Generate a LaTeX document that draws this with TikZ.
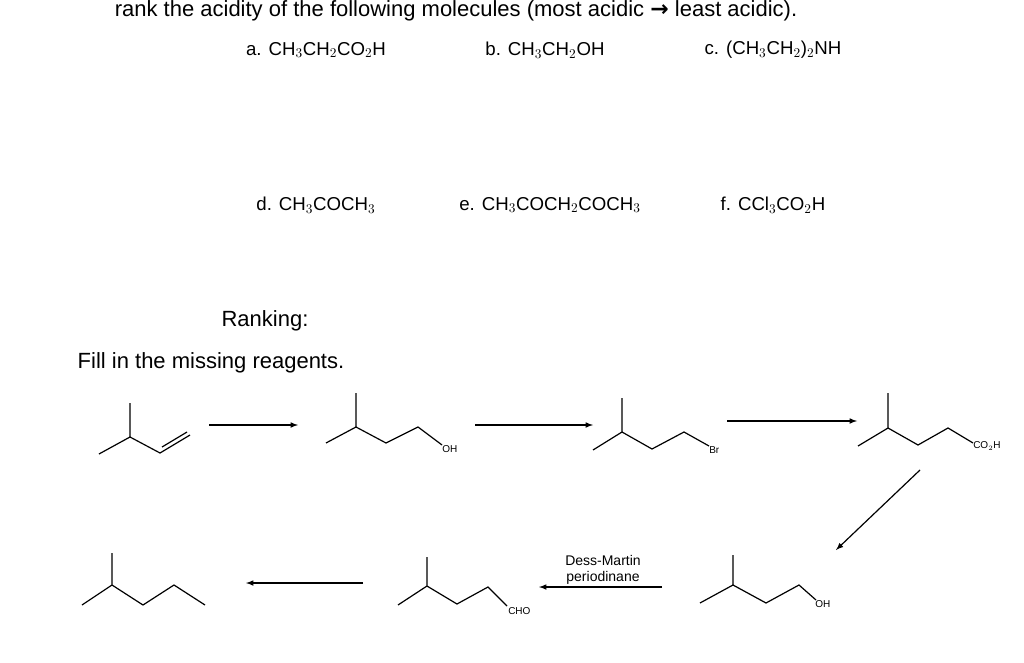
\documentclass[tikz,border=0pt]{standalone}
\usepackage{fontspec}
\setmainfont{Liberation Sans}
\newfontfamily\dvs{DejaVu Sans}
\begin{document}
\begin{tikzpicture}[x=0.75pt,y=-0.75pt,
  bond/.style={line width=0.9pt},
  rxn/.style={line width=0.9pt,-latex},
  big/.style={font=\fontsize{16.5}{18}\selectfont,inner sep=0},
  lab/.style={font=\fontsize{14}{16}\selectfont,inner sep=0},
  sm/.style={font=\fontsize{7.5}{8}\selectfont,inner sep=0,anchor=west}]
\useasboundingbox (0,0) rectangle (1024,663);
\node[big] (title) at (456,11) {rank the acidity of the following molecules (most acidic {\dvs\bfseries →} least acidic).};
\node[lab] (a) at (316,50) {a. CH$_3$CH$_2$CO$_2$H};
\node[lab] (b) at (545,50) {b. CH$_3$CH$_2$OH};
\node[lab] (c) at (773,50) {c. (CH$_3$CH$_2$)$_2$NH};
\node[lab] (d) at (316,205) {d. CH$_3$COCH$_3$};
\node[lab] (e) at (550,205) {e. CH$_3$COCH$_2$COCH$_3$};
\node[lab] (f) at (773,205) {f. CCl$_3$CO$_2$H};
\node[big] (rk) at (265,321) {Ranking:};
\node[big] (fill) at (211,363) {Fill in the missing reagents.};
% 1 alkene
\draw[bond] (99,454)--(130,437)--(130,403) (130,437)--(160,453)--(190,435);
\draw[bond] (162,447)--(187,432);
% 2 alcohol
\draw[bond] (326,443)--(356,427)--(356,393) (356,427)--(386,443)--(418,427)--(442,445);
\node[sm] (oh1) at (442,449) {OH};
% 3 bromide
\draw[bond] (593,450)--(622,432)--(622,398) (622,432)--(652,449)--(684,432)--(709,446);
\node[sm] (br) at (709,450) {Br};
% 4 acid
\draw[bond] (858,446)--(888,428)--(888,393) (888,428)--(918,445)--(948,428)--(973,443);
\node[sm] (co) at (973,446) {CO$_2$H};
% bottom right alcohol
\draw[bond] (700,603)--(733,585)--(733,555) (733,585)--(766,603)--(799,585)--(816,600);
\node[sm] (oh2) at (815,604) {OH};
% aldehyde
\draw[bond] (398,605)--(427,586)--(427,557) (427,586)--(457,604)--(488,587)--(507,606);
\node[sm] (cho) at (508,611) {CHO};
% alkane
\draw[bond] (82,605)--(112,585)--(112,553) (112,585)--(143,605)--(174,585)--(205,605);
% arrows
\coordinate (a1s) at (209,425); \coordinate (a1e) at (298,425);
\coordinate (a2s) at (475,425); \coordinate (a2e) at (593,425);
\coordinate (a3s) at (727,421); \coordinate (a3e) at (857,421);
\coordinate (a4s) at (920,470); \coordinate (a4e) at (836,550);
\coordinate (a5s) at (662,587); \coordinate (a5e) at (539,587);
\coordinate (a6s) at (363,583); \coordinate (a6e) at (246,583);
\draw[rxn] (a1s)--(a1e);
\draw[rxn] (a2s)--(a2e);
\draw[rxn] (a3s)--(a3e);
\draw[rxn] (a4s)--(a4e);
\draw[rxn] (a5s)--(a5e);
\draw[rxn] (a6s)--(a6e);
\node[lab,font=\fontsize{10.5}{12}\selectfont,align=center] (dm) at (603,570) {Dess-Martin\\periodinane};
\end{tikzpicture}
\end{document}
